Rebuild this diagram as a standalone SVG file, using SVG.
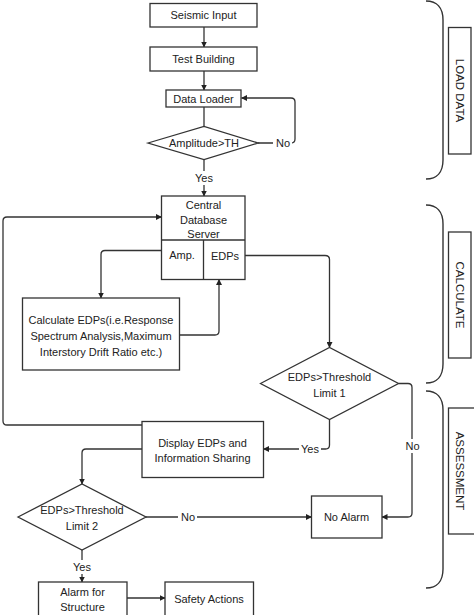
<svg xmlns="http://www.w3.org/2000/svg" width="474" height="615" viewBox="0 0 474 615">
<defs>
<marker id="ah" markerWidth="6" markerHeight="6" refX="5.5" refY="3" orient="auto" markerUnits="userSpaceOnUse">
<path d="M0,0 L6,3 L0,6 Z" fill="#222"/>
</marker>
<style>
.box{fill:#fff;stroke:#333;stroke-width:1.3}
.t{font-family:"Liberation Sans",Arial,sans-serif;font-size:11px;fill:#222;text-anchor:middle}
.v{font-family:"Liberation Sans",Arial,sans-serif;font-size:11.5px;fill:#222;text-anchor:middle}
.c{fill:none;stroke:#333;stroke-width:1.3}
.a{marker-end:url(#ah)}
.lb{fill:#fff}
.br{fill:none;stroke:#333;stroke-width:1.4}
</style>
</defs>
<rect width="474" height="615" fill="#fff"/>

<g id="connectors">
<path class="c a" d="M204,27 V47"/>
<path class="c a" d="M204,71 V90"/>
<path class="c" d="M204,107 V126.5"/>
<path class="c a" d="M258,143 H291 Q295,143 295,139 V102 Q295,98 291,98 H241.5"/>
<path class="c a" d="M204,159.5 V196"/>
<path class="c a" d="M161.5,250.5 H105 Q101,250.5 101,254.5 V298"/>
<path class="c a" d="M180,335 H215 Q219,335 219,331 V279.5"/>
<path class="c a" d="M245,255.5 H325 Q329.5,255.5 329.5,259.5 V347.5"/>
<path class="c a" d="M398.5,383.5 H408 Q412,383.5 412,387.5 V513 Q412,517 408,517 H382"/>
<path class="c a" d="M329.5,419.5 V445 Q329.5,449 325.5,449 H263.5"/>
<path class="c a" d="M142,425 H7 Q3,425 3,421 V221 Q3,217 7,217 H161.5"/>
<path class="c a" d="M142,449 H86 Q82,449 82,453 V484"/>
<path class="c a" d="M146,517 H311.5"/>
<path class="c a" d="M82,550 V582"/>
<path class="c a" d="M127,598 H165"/>
<rect class="lb" x="273" y="136" width="19" height="14"/>
<text class="t" x="283" y="147">No</text>
<rect class="lb" x="193" y="171" width="22" height="14"/>
<text class="t" x="204" y="182">Yes</text>
<rect class="lb" x="403" y="439" width="18" height="14"/>
<text class="t" x="412.5" y="450">No</text>
<rect class="lb" x="299" y="442" width="22" height="14"/>
<text class="t" x="310" y="453">Yes</text>
<rect class="lb" x="178" y="510" width="19" height="14"/>
<text class="t" x="188" y="521">No</text>
<rect class="lb" x="71" y="560" width="22" height="14"/>
<text class="t" x="82" y="571">Yes</text>
</g>

<g id="seismic-input">
<rect class="box" x="150" y="3.5" width="107" height="23.5"/>
<text class="t" x="203.5" y="19">Seismic Input</text>
</g>
<g id="test-building">
<rect class="box" x="150" y="47" width="107" height="24"/>
<text class="t" x="203.5" y="63">Test Building</text>
</g>
<g id="data-loader">
<rect class="box" x="166" y="90" width="75" height="17"/>
<text class="t" x="203.5" y="102.5">Data Loader</text>
</g>
<g id="amplitude-decision">
<polygon class="box" points="148,143 204,126.5 258,143 204,159.5"/>
<text class="t" x="204" y="147">Amplitude&gt;TH</text>
</g>
<g id="central-database">
<rect class="box" x="161.5" y="196" width="83.5" height="83.5"/>
<line class="c" x1="161.5" y1="240" x2="245" y2="240"/>
<line class="c" x1="203.5" y1="240" x2="203.5" y2="279.5"/>
<text class="t" x="203.5" y="209">Central</text>
<text class="t" x="203.5" y="224">Database</text>
<text class="t" x="203.5" y="238">Server</text>
<text class="t" x="182" y="259">Amp.</text>
<text class="t" x="225" y="260">EDPs</text>
</g>
<g id="calculate-edps">
<rect class="box" x="22.5" y="298" width="157" height="72"/>
<text class="t" x="101" y="324">Calculate EDPs(i.e.Response</text>
<text class="t" x="101" y="340">Spectrum Analysis,Maximum</text>
<text class="t" x="101" y="356">Interstory Drift Ratio etc.)</text>
</g>
<g id="threshold-1">
<polygon class="box" points="260.5,383.5 329.5,347.5 398.5,383.5 329.5,419.5"/>
<text class="t" x="329.5" y="381">EDPs&gt;Threshold</text>
<text class="t" x="329.5" y="396.5">Limit 1</text>
</g>
<g id="display-edps">
<rect class="box" x="142" y="421.5" width="121.5" height="56"/>
<text class="t" x="202.5" y="446.5">Display EDPs and</text>
<text class="t" x="202.5" y="461.5">Information Sharing</text>
</g>
<g id="threshold-2">
<polygon class="box" points="18,517 82,484 146,517 82,550"/>
<text class="t" x="82" y="514">EDPs&gt;Threshold</text>
<text class="t" x="82" y="530">Limit 2</text>
</g>
<g id="no-alarm">
<rect class="box" x="311.5" y="496" width="70.5" height="42"/>
<text class="t" x="346.5" y="521">No Alarm</text>
</g>
<g id="alarm-structure">
<rect class="box" x="38.5" y="582" width="88.5" height="40"/>
<text class="t" x="82.5" y="596">Alarm for</text>
<text class="t" x="82.5" y="611">Structure</text>
</g>
<g id="safety-actions">
<rect class="box" x="165" y="582" width="88.5" height="40"/>
<text class="t" x="209" y="603">Safety Actions</text>
</g>

<g id="load-data-phase">
<path class="br" d="M426,1 C437,1 443,8 443,20 L443,160 C443,172 437,179 426,179"/>
<rect class="box" x="448.5" y="27.5" width="22.5" height="126.5"/>
<text class="v" transform="translate(455.5,90.5) rotate(90)">LOAD DATA</text>
</g>
<g id="calculate-phase">
<path class="br" d="M426,205 C437,205 443,212 443,224 L443,364 C443,376 437,383 426,383"/>
<rect class="box" x="448.5" y="232" width="22.5" height="126"/>
<text class="v" transform="translate(455.5,295) rotate(90)">CALCULATE</text>
</g>
<g id="assessment-phase">
<path class="br" d="M426,391 C437,391 443,398 443,410 L443,569 C443,581 437,588 426,588"/>
<rect class="box" x="448.5" y="408" width="28" height="126"/>
<text class="v" transform="translate(455.5,471) rotate(90)">ASSESSMENT</text>
</g>
</svg>
